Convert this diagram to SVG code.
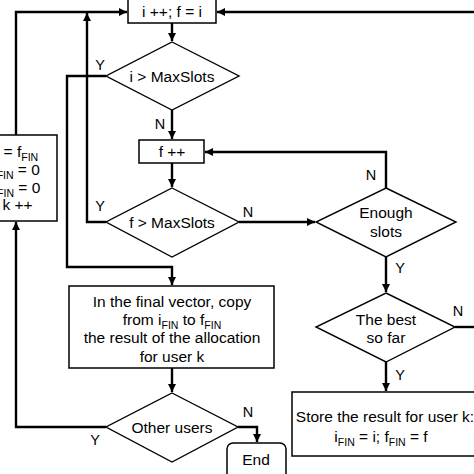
<svg xmlns="http://www.w3.org/2000/svg" width="474" height="474" viewBox="0 0 474 474">
<style>
  .box{fill:#fff;stroke:#000;stroke-width:1.5}
  .dia{fill:#fff;stroke:#000;stroke-width:1.4}
  .con{fill:none;stroke:#000;stroke-width:2.4}
  text{font-family:"Liberation Sans",Arial,sans-serif;font-size:15.5px;fill:#000;text-anchor:middle}
  .lbl{font-size:14.5px}
  .sub{font-size:10.5px}
</style>
<defs>
  <marker id="ah" viewBox="0 0 10 10" refX="10" refY="5" markerWidth="8" markerHeight="8" markerUnits="userSpaceOnUse" orient="auto">
    <path d="M0,0 L10,5 L0,10 z" fill="#000"/>
  </marker>
</defs>
<rect width="474" height="474" fill="#fff"/>
<g id="connectors">
  <path class="con" d="M474,12 L217,12" marker-end="url(#ah)"/>
  <path class="con" d="M16,135 L16,12 L127,12" marker-end="url(#ah)"/>
  <path class="con" d="M106,222 L87,222 L87,13" marker-end="url(#ah)"/>
  <path class="con" d="M172,23 L172,41" marker-end="url(#ah)"/>
  <path class="con" d="M106,76 L67,76 L67,267 L172,267 L172,285" marker-end="url(#ah)"/>
  <path class="con" d="M172,110 L172,139" marker-end="url(#ah)"/>
  <path class="con" d="M172,163 L172,187" marker-end="url(#ah)"/>
  <path class="con" d="M386,188 L386,152 L205,152" marker-end="url(#ah)"/>
  <path class="con" d="M239,222 L315,222" marker-end="url(#ah)"/>
  <path class="con" d="M386,257 L386,292" marker-end="url(#ah)"/>
  <path class="con" d="M455,327 L476,327"/>
  <path class="con" d="M386,362 L386,391" marker-end="url(#ah)"/>
  <path class="con" d="M172,368 L172,392" marker-end="url(#ah)"/>
  <path class="con" d="M106,427 L16,427 L16,222" marker-end="url(#ah)"/>
  <path class="con" d="M238,427 L257,427 L257,442" marker-end="url(#ah)"/>
  <text class="lbl" x="100" y="70">Y</text>
  <text class="lbl" x="160" y="129">N</text>
  <text class="lbl" x="100" y="211">Y</text>
  <text class="lbl" x="248" y="217">N</text>
  <text class="lbl" x="371" y="180">N</text>
  <text class="lbl" x="400" y="273">Y</text>
  <text class="lbl" x="458" y="316">N</text>
  <text class="lbl" x="400" y="380">Y</text>
  <text class="lbl" x="248" y="417">N</text>
  <text class="lbl" x="95" y="445">Y</text>
</g>
<g id="n-init">
  <rect class="box" x="128" y="-1" width="88" height="24"/>
  <text x="172" y="17">i ++; f = i</text>
</g>
<g id="n-imax">
  <polygon class="dia" points="172,42 239,76 172,110 106,76"/>
  <text x="172" y="81.5">i &gt; MaxSlots</text>
</g>
<g id="n-finc">
  <rect class="box" x="139" y="140" width="65" height="23"/>
  <text x="172" y="157">f ++</text>
</g>
<g id="n-fmax">
  <polygon class="dia" points="172,188 239,222 172,257 106,222"/>
  <text x="172" y="228">f &gt; MaxSlots</text>
</g>
<g id="n-enough">
  <polygon class="dia" points="386,188 456,222 386,257 316,222"/>
  <text x="386" y="218">Enough</text>
  <text x="386" y="237">slots</text>
</g>
<g id="n-best">
  <polygon class="dia" points="386,293 455,327 386,362 316,327"/>
  <text x="386" y="325">The best</text>
  <text x="386" y="343">so far</text>
</g>
<g id="n-store">
  <rect class="box" x="292" y="392" width="200" height="64"/>
  <text x="385" y="422">Store the result for user k:</text>
  <text x="381" y="442">i<tspan class="sub" dy="3.5">FIN</tspan><tspan dy="-3.5"> = i; f</tspan><tspan class="sub" dy="3.5">FIN</tspan><tspan dy="-3.5"> = f</tspan></text>
</g>
<g id="n-reset">
  <rect class="box" x="-22" y="135" width="79" height="86"/>
  <text x="17" y="157">i = f<tspan class="sub" dy="3.5">FIN</tspan></text>
  <text x="16.5" y="175">i<tspan class="sub" dy="3.5">FIN</tspan><tspan dy="-3.5"> = 0</tspan></text>
  <text x="16.5" y="193">f<tspan class="sub" dy="3.5">FIN</tspan><tspan dy="-3.5"> = 0</tspan></text>
  <text x="17.5" y="210">k ++</text>
</g>
<g id="n-copy">
  <rect class="box" x="69" y="286" width="205" height="82"/>
  <text x="172" y="307">In the final vector, copy</text>
  <text x="172" y="325">from i<tspan class="sub" dy="3.5">FIN</tspan><tspan dy="-3.5"> to f</tspan><tspan class="sub" dy="3.5">FIN</tspan></text>
  <text x="172" y="343">the result of the allocation</text>
  <text x="172" y="362">for user k</text>
</g>
<g id="n-other">
  <polygon class="dia" points="172,393 238,427 172,462 106,427"/>
  <text x="172" y="433">Other users</text>
</g>
<g id="n-end">
  <rect class="box" x="227" y="443" width="59" height="40" rx="6"/>
  <text x="256" y="465">End</text>
</g>
</svg>
